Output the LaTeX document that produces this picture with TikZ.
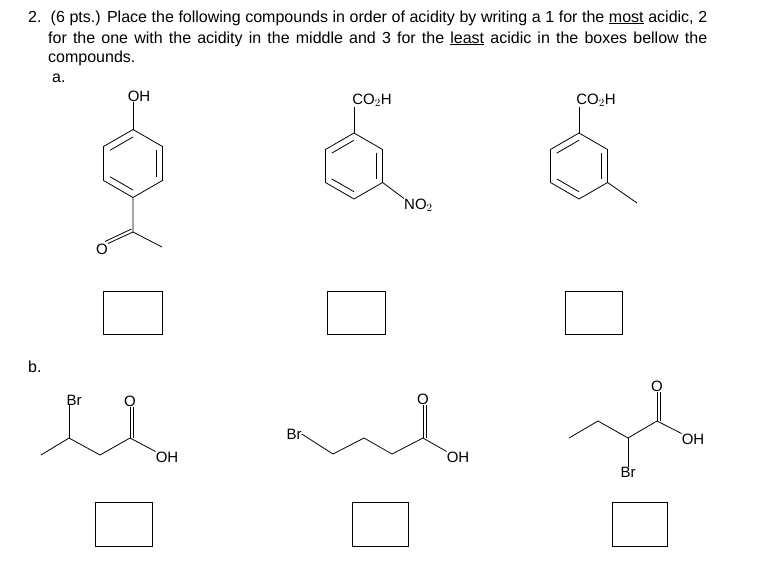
\documentclass[tikz,border=0pt]{standalone}
\usepackage{fontspec}
\setmainfont{Liberation Sans}
\usetikzlibrary{calc}
\tikzset{bond/.style={line width=0.8pt},
  atom/.style={inner sep=0pt,font=\fontsize{15}{17}\selectfont},
  txt/.style={anchor=west,inner sep=0pt,font=\fontsize{16}{18}\selectfont},
  ansbox/.style={draw,line width=0.8pt}}
% ring with corners p1..p6 (top, clockwise) and inner double bonds
\newcommand{\ring}[4]{%
  \coordinate (#1c) at (#2,#3);
  \coordinate (#11) at ($(#1c)+(0,-#4)$);
  \coordinate (#12) at ($(#1c)+(0.866*#4,-0.5*#4)$);
  \coordinate (#13) at ($(#1c)+(0.866*#4,0.5*#4)$);
  \coordinate (#14) at ($(#1c)+(0,#4)$);
  \coordinate (#15) at ($(#1c)+(-0.866*#4,0.5*#4)$);
  \coordinate (#16) at ($(#1c)+(-0.866*#4,-0.5*#4)$);
  \draw[bond] (#11)--(#12)--(#13)--(#14)--(#15)--(#16)--cycle;
  \draw[bond] ($(#1c)!0.78!(#16)$)--($(#1c)!0.78!(#11)$);
  \draw[bond] ($(#1c)!0.78!(#12)$)--($(#1c)!0.78!(#13)$);
  \draw[bond] ($(#1c)!0.78!(#14)$)--($(#1c)!0.78!(#15)$);}
\begin{document}
\begin{tikzpicture}[x=1pt,y=-1pt]
\useasboundingbox (0,0) rectangle (758,573);
\node[txt] (l1) at (28,18) {\hbox to 679pt{2.\ \ (6 pts.) Place the following compounds in order of acidity by writing a 1 for the \underline{most} acidic, 2}};
\node[txt] (l2) at (48,39) {\hbox to 659pt{for the one with the acidity in the middle and 3 for the \underline{least} acidic in the boxes bellow the}};
\node[txt] (l3) at (48,58) {compounds.};
\node[txt] (pa) at (52,78) {a.};
\node[txt] (pb) at (28,367) {b.};

% a.1
\ring{A}{133}{163.5}{34}
\node[atom] (oh1) at (139,96) {OH};
\draw[bond] (A1)--(oh1.south-|A1);
\coordinate (ca1) at (133,232);
\node[atom] (o1) at (102,249) {O};
\coordinate (me1) at (162,247);
\draw[bond] (A4)--(ca1)--(me1);
\draw[bond] (ca1)--(o1.north east);
\draw[bond] ($(ca1)+(-1.5,-3)$)--($(o1.north east)+(-3,-2)$);
% a.2
\ring{B}{354}{166}{33}
\node[atom] (co2) at (372,100) {CO$_2$H};
\draw[bond] (B1)--(B1|-co2.south);
\node[atom,anchor=west] (no2) at (404,205) {NO$_2$};
\draw[bond] (B3)--(no2.north west);
% a.3
\ring{C}{579}{166}{33}
\node[atom] (co3) at (596,100) {CO$_2$H};
\draw[bond] (C1)--(C1|-co3.south);
\coordinate (me3) at (637,203);
\draw[bond] (C3)--(me3);

\draw[ansbox] (103,291) rectangle (162,334);
\draw[ansbox] (327,291) rectangle (385,334);
\draw[ansbox] (565,291) rectangle (622,334);

% b.1
\node[atom] (br4) at (74,400) {Br};
\node[atom] (o4) at (130,401) {O};
\node[atom] (oh4) at (167,457) {OH};
\coordinate (d1) at (41,455); \coordinate (d2) at (69,438);
\coordinate (d3) at (100,455); \coordinate (d4) at (130,438);
\draw[bond] (d1)--(d2)--(d3)--(d4)--(oh4.north west);
\draw[bond] (d2)--(br4.south-|d2);
\draw[bond] (d4)--(o4.south);
\draw[bond] ($(d4)+(3,0)$)--($(o4.south)+(3,0)$);
% b.2
\node[atom] (br5) at (294,434) {Br};
\node[atom] (o5) at (423,399) {O};
\node[atom] (oh5) at (458,457) {OH};
\coordinate (e1) at (333,454); \coordinate (e2) at (364,438);
\coordinate (e3) at (392,454); \coordinate (e4) at (423,438);
\draw[bond] (br5.east)--(e1)--(e2)--(e3)--(e4)--(oh5.north west);
\draw[bond] (e4)--(o5.south);
\draw[bond] ($(e4)+(3,0)$)--($(o5.south)+(3,0)$);
% b.3
\node[atom] (o6) at (657,386) {O};
\node[atom] (oh6) at (693,439) {OH};
\node[atom] (br6) at (628,472) {Br};
\coordinate (f1) at (569,438); \coordinate (f2) at (598,421);
\coordinate (f3) at (628,438); \coordinate (f4) at (657,421);
\draw[bond] (f1)--(f2)--(f3)--(f4)--(oh6.north west);
\draw[bond] (f3)--(br6.north);
\draw[bond] (f4)--(o6.south);
\draw[bond] ($(f4)+(3,0)$)--($(o6.south)+(3,0)$);

\draw[ansbox] (95,502) rectangle (152,546);
\draw[ansbox] (352,502) rectangle (408,546);
\draw[ansbox] (612,502) rectangle (667,546);
\end{tikzpicture}
\end{document}
